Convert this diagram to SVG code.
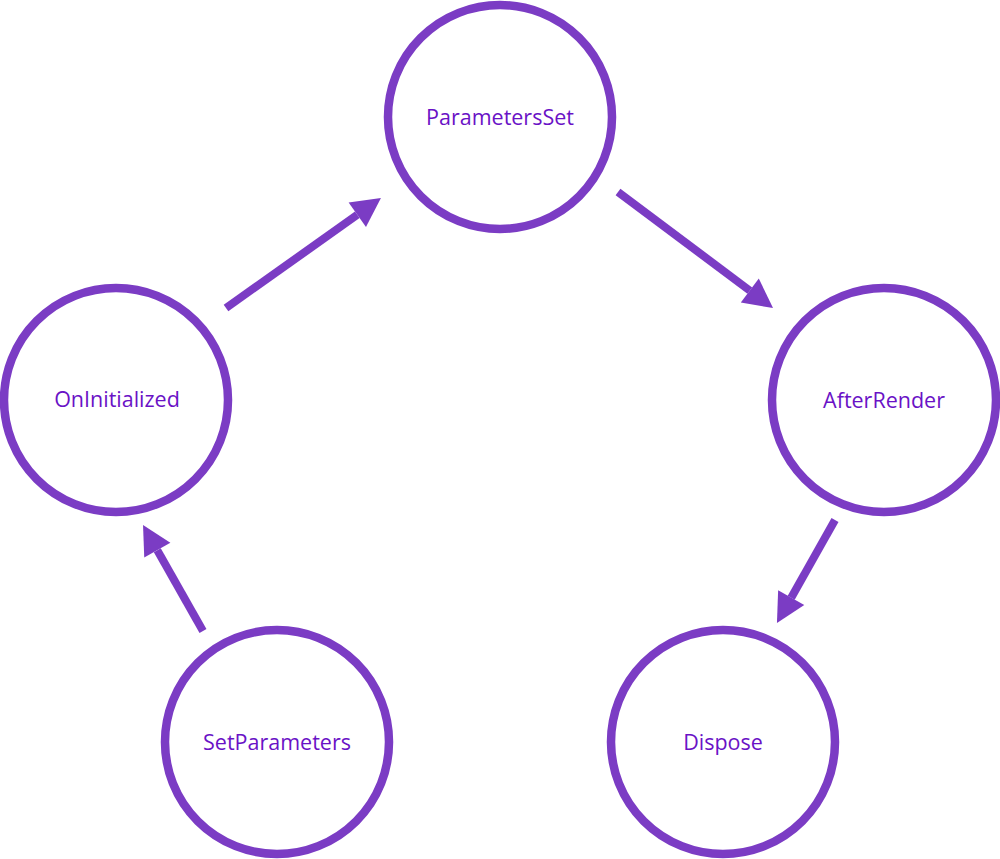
<svg xmlns="http://www.w3.org/2000/svg" width="1000" height="859" viewBox="0 0 1000 859">
  <style>
    .node circle { fill: #ffffff; stroke: #7B3CC4; stroke-width: 8.5; }
    .node text { font-family: "Open Sans", "Noto Sans", "Liberation Sans", sans-serif; font-size: 21.5px; fill: #6A12C6; text-anchor: middle; }
    .edge { stroke: #7B3CC4; stroke-width: 8; fill: none; marker-end: url(#head); }
  </style>
  <defs>
    <marker id="head" markerUnits="userSpaceOnUse" markerWidth="30" markerHeight="30" refX="0" refY="15" orient="auto" overflow="visible">
      <path d="M0,0 L29,15 L0,30 Z" fill="#7B3CC4"/>
    </marker>
  </defs>
  <rect width="1000" height="859" fill="#ffffff"/>
  <g id="connectors">
    <line class="edge" x1="226" y1="308" x2="357.3" y2="214.8"/>
    <line class="edge" x1="618" y1="192" x2="749.8" y2="290.6"/>
    <line class="edge" x1="835" y1="520" x2="791.2" y2="597.7"/>
    <line class="edge" x1="203" y1="631" x2="157.3" y2="550.2"/>
  </g>
  <g id="node-parametersset" class="node">
    <circle cx="500" cy="117" r="112"/>
    <text x="500" y="125">ParametersSet</text>
  </g>
  <g id="node-oninitialized" class="node">
    <circle cx="116" cy="400" r="112"/>
    <text x="117" y="407">OnInitialized</text>
  </g>
  <g id="node-afterrender" class="node">
    <circle cx="884" cy="400" r="112"/>
    <text x="884" y="408">AfterRender</text>
  </g>
  <g id="node-setparameters" class="node">
    <circle cx="277" cy="742" r="112"/>
    <text x="277" y="750">SetParameters</text>
  </g>
  <g id="node-dispose" class="node">
    <circle cx="723" cy="742" r="112"/>
    <text x="723" y="750">Dispose</text>
  </g>
</svg>
